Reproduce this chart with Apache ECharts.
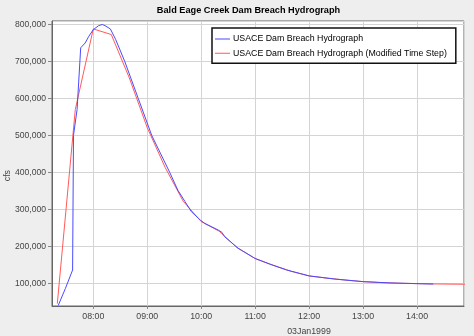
<!DOCTYPE html>
<html>
<head>
<meta charset="utf-8">
<script src="https://cdn.jsdelivr.net/npm/echarts@6/dist/echarts.min.js"></script>
<style>
html,body{margin:0;padding:0;background:#eeeeee;}
#c{width:474px;height:336px;}
</style>
</head>
<body>
<div id="c"></div>
<script>
const chartTitle = 'Bald Eage Creek Dam Breach Hydrograph';
const seriesNames = ['USACE Dam Breach Hydrograph', 'USACE Dam Breach Hydrograph (Modified Time Step)'];
const yAxisTitle = 'cfs';
const dateLabel = '03Jan1999';

const blueTimes = ['07:21','07:29','07:37','07:38','07:42','07:46','07:48','07:51','07:55','08:00','08:06','08:10','08:13','08:19','08:25','08:35','08:50','09:05','09:15','09:25','09:34','09:42','09:49','09:59','10:04','10:19','10:21','10:23','10:26','10:41','11:00','11:16','11:35','12:00','12:30','13:00','13:30','14:00','14:18'];
const blueValues = [40000,86000,136000,500000,570000,737000,742000,750000,768000,786000,797000,800000,797000,788000,759000,700000,600000,500000,450000,400000,352000,321000,294000,271000,262000,244000,247000,238000,226000,195000,167000,152000,136000,120000,111000,104500,101000,99000,98000];

const redTimes = ['07:20','07:40','08:00','08:20','08:40','09:00','09:20','09:40','10:00','10:20','10:40','11:00','11:20','11:40','12:00','12:20','12:40','13:00','13:20','13:40','14:00','14:20','14:40','15:00'];
const redValues = [45000,570000,788000,773000,656000,521000,413000,322000,267000,241000,196000,167000,149000,132500,120000,114000,109000,104500,102000,100300,99200,98300,97700,97400];

function toHours(s){ const p = s.split(':'); return +p[0] + (+p[1])/60; }
function pairs(times, vals){ return times.map((t,i)=>[toHours(t), vals[i]]); }

const FONT = 'Liberation Sans, Arial, sans-serif';
const BLUE = '#4a4aff', RED = '#ff5a5a';
const lineIcon = 'path://M0,0L0.01,0L0.01,0.01L0,0.01Z M0,8.9L30,8.9L30,11.1L0,11.1Z M29.99,19.99L30,19.99L30,20L29.99,20Z';
const chart = echarts.init(document.getElementById('c'), null, {renderer:'canvas'});
chart.setOption({
  animation:false,
  backgroundColor:'#eeeeee',
  title:{
    text: chartTitle, left: 243.5, top: 1, textAlign:'center',
    textStyle:{fontFamily:FONT, fontSize:9.2, fontWeight:'bold', color:'#000'}
  },
  legend:{
    orient:'vertical', left:212, top:28,
    backgroundColor:'#fff', borderColor:'#111', borderWidth:1.5,
    padding:[6,9,5,3], itemGap:4.3, itemWidth:15, itemHeight:10,
    textStyle:{fontFamily:FONT, fontSize:8.8, color:'#000', padding:[0,0,0,-2]},
    data: [{name:seriesNames[0], icon:lineIcon}, {name:seriesNames[1], icon:lineIcon}]
  },
  grid:{left:52, right:10, top:21, bottom:30, show:true, backgroundColor:'#fff', borderColor:'#666', borderWidth:1},
  xAxis:{
    type:'value', min:7.235, max:14.87, minInterval:1, maxInterval:1, splitNumber:7,
    axisLine:{show:true, onZero:false, lineStyle:{color:'#666'}},
    axisTick:{show:true, length:3, lineStyle:{color:'#888'}},
    splitLine:{show:true, lineStyle:{color:'#d4d4d4', width:1}},
    axisLabel:{showMinLabel:false, showMaxLabel:false, margin:6, fontFamily:FONT, fontSize:8.8, color:'#444',
      formatter:v=> (v<10?'0':'')+Math.round(v)+':00'}
  },
  yAxis:{
    type:'value', min:38600, max:809500, minInterval:100000, maxInterval:100000, splitNumber:8,
    axisLine:{show:true, lineStyle:{color:'#666'}},
    axisTick:{show:true, length:4, lineStyle:{color:'#888'}},
    splitLine:{show:true, lineStyle:{color:'#d4d4d4', width:1}},
    axisLabel:{showMinLabel:false, showMaxLabel:false, margin:6, fontFamily:FONT, fontSize:8.6, color:'#444',
      formatter:v=> v.toLocaleString('en-US')}
  },
  graphic:[
    {type:'text', left:3, top:170, rotation:Math.PI/2, style:{text:yAxisTitle, font:'8.8px '+FONT, fill:'#444'}},
    {type:'text', x:309, y:331.5, style:{text:dateLabel, font:'8.8px '+FONT, fill:'#444', textAlign:'center', textVerticalAlign:'middle'}}
  ],
  series:[
    {name:seriesNames[0], type:'line', data:pairs(blueTimes, blueValues), symbol:'none', lineStyle:{color:BLUE, width:1}, itemStyle:{color:BLUE}, z:3},
    {name:seriesNames[1], type:'line', data:pairs(redTimes, redValues), symbol:'none', lineStyle:{color:RED, width:1}, itemStyle:{color:RED}, z:2}
  ]
});
</script>
</body>
</html>
